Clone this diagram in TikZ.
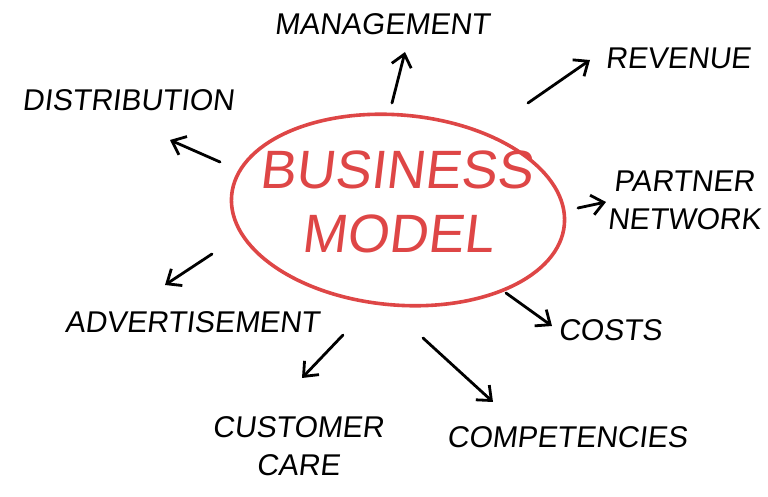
\documentclass[tikz,border=0pt]{standalone}
\usepackage{fontspec}
\setmainfont{Liberation Sans}
\newfontfamily\hand[FakeSlant=0.12]{Liberation Sans}
\usetikzlibrary{arrows.meta}
\definecolor{marker}{RGB}{222,70,70}
\tikzset{
  word/.style={font=\hand\fontsize{15}{19}\selectfont, align=center, inner sep=0pt},
  big/.style={font=\hand\fontsize{27}{32}\selectfont, text=marker, inner sep=0pt},
  pen/.style={line width=1.4pt, line cap=round, -{Straight Barb[length=6pt,width=10pt]}}
}
\begin{document}
\begin{tikzpicture}[x=0.5pt,y=-0.5pt]
\useasboundingbox (0,0) rectangle (768,497);
\draw[marker, line width=1.8pt, rotate around={-5:(398,210)}] (398,210) ellipse [x radius=167, y radius=95];
\node[big] (bus) at (396,170) {BUSINESS};
\node[big] (mod) at (398,234) {MODEL};
\node[word] (man) at (382,24) {MANAGEMENT};
\node[word] (rev) at (678,58) {REVENUE};
\node[word] (dis) at (128,100) {DISTRIBUTION};
\node[word] (par) at (684,200) {PARTNER\\NETWORK};
\node[word] (cos) at (610,330) {COSTS};
\node[word] (adv) at (192,322) {ADVERTISEMENT};
\node[word] (cus) at (298,446) {CUSTOMER\\CARE};
\node[word] (com) at (567,437) {COMPETENCIES};
\coordinate (m1) at (392,103);
\coordinate (m2) at (405,52);
\coordinate (r1) at (528,103);
\coordinate (r2) at (590,60);
\coordinate (d1) at (220,162);
\coordinate (d2) at (170,140);
\coordinate (p1) at (578,208);
\coordinate (p2) at (606,202);
\coordinate (c1) at (506,293);
\coordinate (c2) at (552,326);
\coordinate (a1) at (212,254);
\coordinate (a2) at (165,285);
\coordinate (u1) at (343,335);
\coordinate (u2) at (302,378);
\coordinate (o1) at (423,338);
\coordinate (o2) at (493,402);
\draw[pen] (m1) -- (m2);
\draw[pen] (r1) -- (r2);
\draw[pen] (d1) -- (d2);
\draw[pen] (p1) -- (p2);
\draw[pen] (c1) -- (c2);
\draw[pen] (a1) -- (a2);
\draw[pen] (u1) -- (u2);
\draw[pen] (o1) -- (o2);
\end{tikzpicture}
\end{document}
